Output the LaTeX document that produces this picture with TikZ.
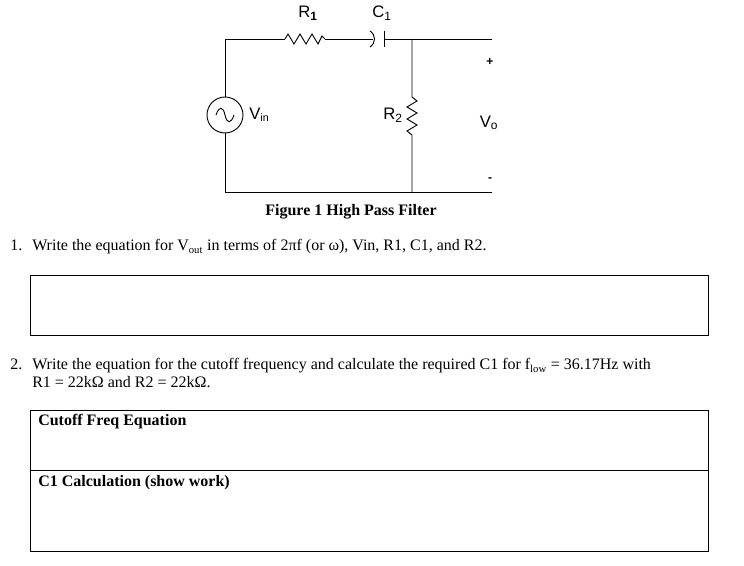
\documentclass[tikz,border=0pt]{standalone}
\usepackage{fontspec}
\setmainfont{Liberation Serif}
\newfontfamily\sansf{Liberation Sans}
\begin{document}
\begin{tikzpicture}[x=0.75pt,y=-0.75pt,
  wire/.style={line width=0.7pt},
  lab/.style={font=\sansf\fontsize{12.5}{13}\selectfont,inner sep=0pt},
  txt/.style={font=\fontsize{12}{14}\selectfont,anchor=base west,inner sep=0pt},
  box/.style={line width=0.6pt}]
\useasboundingbox (0,0) rectangle (744,566);
% circuit
\coordinate (tl) at (225,39); \coordinate (bl) at (225,192);
\coordinate (r1a) at (285,39); \coordinate (r1b) at (325,39);
\coordinate (ca) at (373,39); \coordinate (cb) at (384,39);
\coordinate (j) at (412,39); \coordinate (tr) at (492,39);
\coordinate (r2a) at (412,97); \coordinate (r2b) at (412,135);
\coordinate (jb) at (412,192); \coordinate (br) at (492,192);
\node[circle,draw,line width=0.7pt,minimum size=27pt,inner sep=0pt] (src) at (225,115) {};
\draw[wire] (src.north) -- (tl) -- (r1a);
\draw[wire] (src.south) -- (bl) -- (br);
\draw[wire] (r1a) -- (288,34) -- (294,44) -- (300,34) -- (306,44) -- (312,34) -- (318,44) -- (322,36) -- (r1b);
\draw[wire] (r1b) -- (ca);
\draw[wire] (370,31) .. controls (376,35) and (376,43) .. (370,47);
\draw[wire] (384,31) -- (384,47);
\draw[wire] (cb) -- (tr);
\draw[wire] (j) -- (r2a) -- (417,101) -- (407,107) -- (417,113) -- (407,119) -- (417,125) -- (407,131) -- (r2b) -- (jb);
\draw[wire] (216,115) .. controls (219,106) and (223,106) .. (225,115) .. controls (227,124) and (231,124) .. (234,115);
\node[lab,anchor=west] (vin) at (249,115) {V\textsubscript{\fontsize{8}{8}\selectfont in}};
\node[lab] (r1l) at (308,13) {R\textsubscript{\fontsize{9}{9}\selectfont\bfseries 1}};
\node[lab] (c1l) at (382,13) {C\textsubscript{\fontsize{9}{9}\selectfont 1}};
\node[lab] (r2l) at (393,115) {R\textsubscript{\fontsize{9}{9}\selectfont 2}};
\node[lab] (vo) at (489,123) {V\textsubscript{\fontsize{9}{9}\selectfont o}};
\node[lab,font=\sansf\bfseries\small] (plus) at (490,62) {+};
\node[lab,font=\sansf\bfseries\small] (minus) at (490,180) {-};
\node[font=\bfseries\fontsize{12}{14}\selectfont,inner sep=0pt] (cap) at (351,212) {Figure 1 High Pass Filter};
% questions
\node[txt] (q1n) at (10,251) {1.};
\node[txt] (q1) at (32,251) {Write the equation for V\textsubscript{out} in terms of 2πf (or ω), Vin, R1, C1, and R2.};
\draw[box] (30,275) rectangle (708,335);
\node[txt] (q2n) at (10,370) {2.};
\node[txt] (q2) at (32,370) {Write the equation for the cutoff frequency and calculate the required C1 for f\textsubscript{low} = 36.17Hz with};
\node[txt] (q2b) at (32,388) {R1 = 22kΩ and R2 = 22kΩ.};
\draw[box] (30,410) rectangle (708,551);
\draw[box] (30,470) -- (708,470);
\node[txt,font=\bfseries\fontsize{12}{14}\selectfont] (cf) at (38,426) {Cutoff Freq Equation};
\node[txt,font=\bfseries\fontsize{12}{14}\selectfont] (c1c) at (38,487) {C1 Calculation (show work)};
\end{tikzpicture}
\end{document}
